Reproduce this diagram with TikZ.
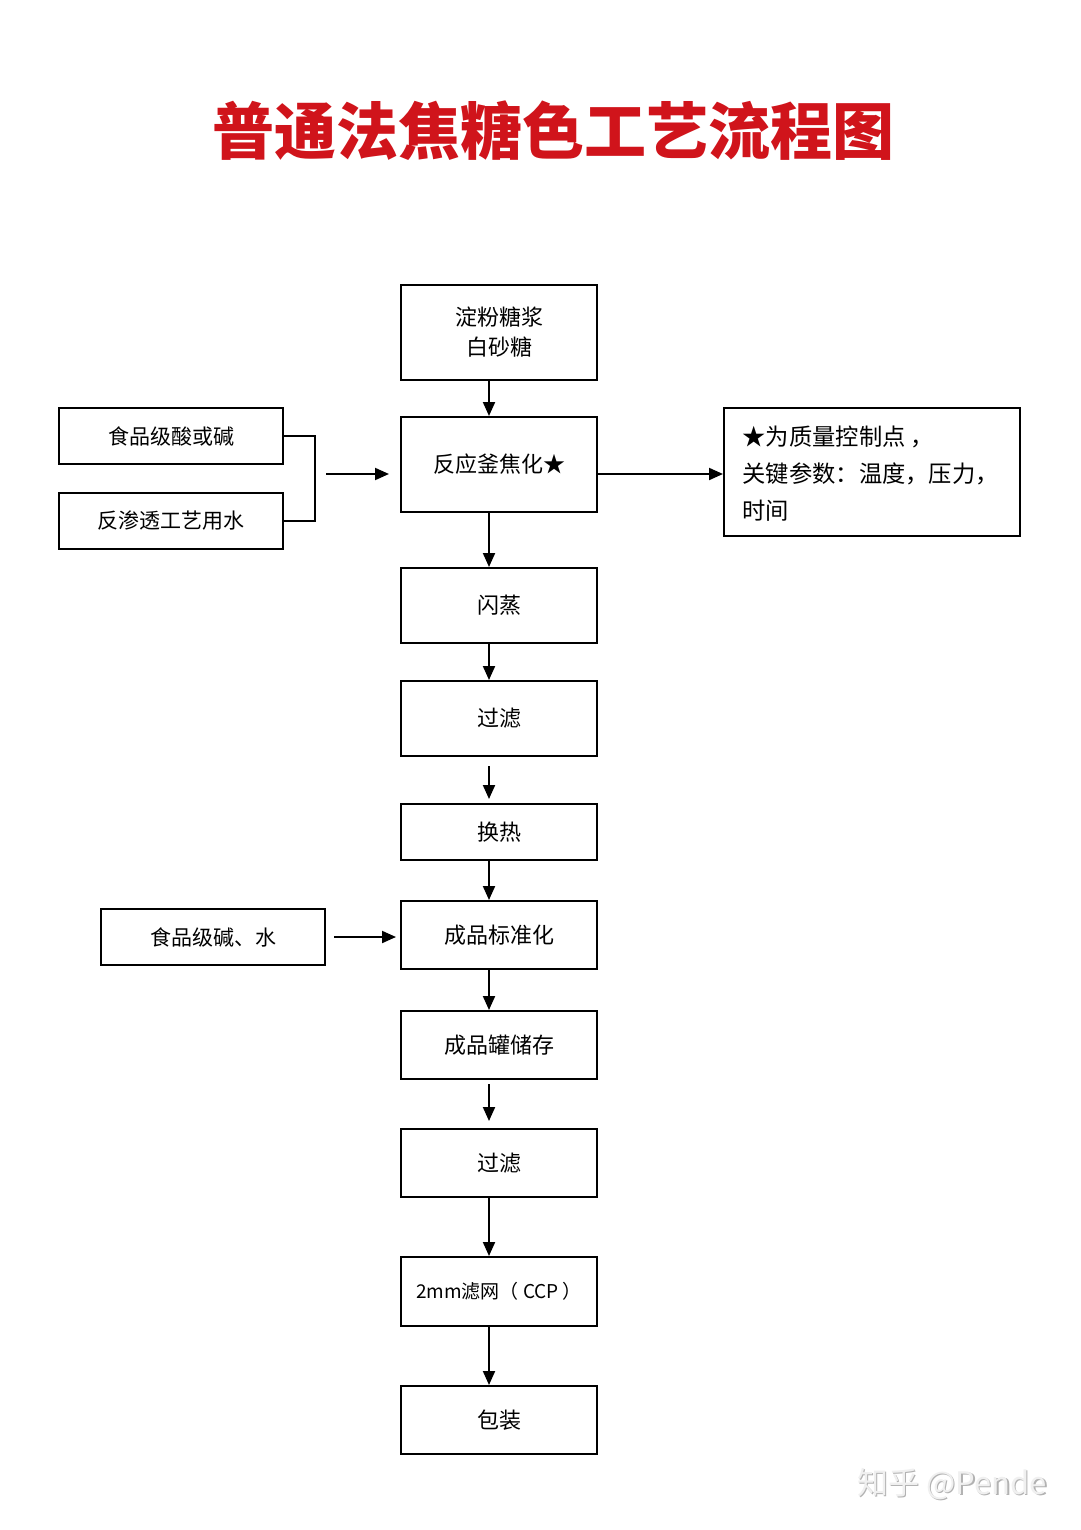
\documentclass[tikz,border=0pt]{standalone}
\usepackage{fontspec}
\setmainfont{Noto Sans CJK SC}
\usetikzlibrary{arrows.meta}
\definecolor{titlered}{HTML}{D0141B}
\tikzset{
  box/.style={draw=black, line width=2pt, fill=white, inner sep=0pt, font=\fontsize{22}{28}\selectfont, align=center},
  arr/.style={draw=black, line width=2pt, -{Triangle[length=14pt,width=12pt]}},
  ln/.style={draw=black, line width=2pt},
  notetext/.style={anchor=west, font=\fontsize{23.3}{28}\selectfont},
}
\begin{document}
\begin{tikzpicture}[x=1pt,y=-1pt]
\useasboundingbox (0,0) rectangle (1080,1530);
\fill[white] (0,0) rectangle (1080,1530);
% title
\node[text=titlered, font=\fontsize{62}{70}\selectfont\bfseries] (title) at (553,131) {普通法焦糖色工艺流程图};
\coordinate (ax) at (489,0);
% main column
\node[box, minimum width=196pt, minimum height=95pt] (n1) at (499,332.5) {淀粉糖浆\\[2pt]白砂糖};
\node[box, minimum width=196pt, minimum height=95pt] (n2) at (499,464.5) {反应釜焦化★};
\node[box, minimum width=196pt, minimum height=75pt] (n3) at (499,605.5) {闪蒸};
\node[box, minimum width=196pt, minimum height=75pt] (n4) at (499,718.5) {过滤};
\node[box, minimum width=196pt, minimum height=56pt] (n5) at (499,832) {换热};
\node[box, minimum width=196pt, minimum height=68pt] (n6) at (499,935) {成品标准化};
\node[box, minimum width=196pt, minimum height=68pt] (n7) at (499,1045) {成品罐储存};
\node[box, minimum width=196pt, minimum height=68pt] (n8) at (499,1163) {过滤};
\node[box, minimum width=196pt, minimum height=69pt, font=\fontsize{19}{24}\selectfont] (n9) at (499,1291.5) {2mm滤网（ CCP ）};
\node[box, minimum width=196pt, minimum height=68pt] (n10) at (499,1420) {包装};
% left inputs
\node[box, minimum width=224pt, minimum height=56pt, font=\fontsize{21}{26}\selectfont] (l1) at (171,436) {食品级酸或碱};
\node[box, minimum width=224pt, minimum height=56pt, font=\fontsize{21}{26}\selectfont] (l2) at (171,521) {反渗透工艺用水};
\node[box, minimum width=224pt, minimum height=56pt, font=\fontsize{21}{26}\selectfont] (l3) at (213,937) {食品级碱、水};
% right note
\node[box, minimum width=296pt, minimum height=128pt] (r1) at (872,472) {};
\node[notetext] (r1a) at (739,437) {★为质量控制点 ，};
\node[notetext] (r1b) at (739,474) {关键参数：温度，压力，};
\node[notetext] (r1c) at (739,511) {时间};
% bracket
\coordinate (bk) at (315,474);
\draw[ln] (l1.east) -- (l1.east -| bk) -- (l2.east -| bk) -- (l2.east);
\coordinate (bs) at (326,474);
\draw[arr, shorten >=11pt] (bs) -- (n2.west |- bs);
% other horizontal arrows
\draw[arr] (n2.east |- bs) -- (r1.west |- bs);
\draw[arr, shorten <=8pt, shorten >=4pt] (l3.east) -- (n6.west |- l3.east);
% vertical arrows
\draw[arr] (n1.south -| ax) -- (n2.north -| ax);
\draw[arr] (n2.south -| ax) -- (n3.north -| ax);
\draw[arr] (n3.south -| ax) -- (n4.north -| ax);
\draw[arr, shorten <=9pt, shorten >=4pt] (n4.south -| ax) -- (n5.north -| ax);
\draw[arr] (n5.south -| ax) -- (n6.north -| ax);
\draw[arr] (n6.south -| ax) -- (n7.north -| ax);
\draw[arr, shorten <=4pt, shorten >=7pt] (n7.south -| ax) -- (n8.north -| ax);
\draw[arr] (n8.south -| ax) -- (n9.north -| ax);
\draw[arr] (n9.south -| ax) -- (n10.north -| ax);
% watermark
\node[text=black!30, font=\fontsize{31}{36}\selectfont] (wms) at (953.5,1485.5) {知乎 @Pende};
\node[text=black!6, font=\fontsize{31}{36}\selectfont] (wm) at (952,1484) {知乎 @Pende};
\end{tikzpicture}
\end{document}
